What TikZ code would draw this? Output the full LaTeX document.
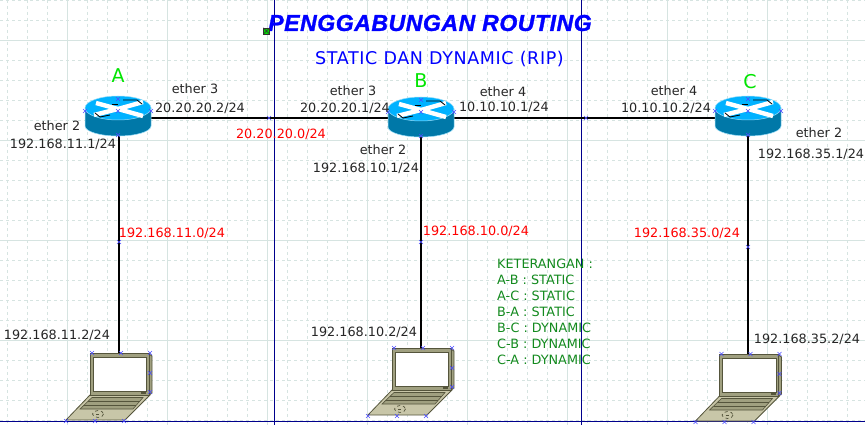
\documentclass[tikz,border=0pt]{standalone}
\usepackage{fontspec}
\usepackage{xcolor}
\usepackage{tikz}
\setmainfont{DejaVu Sans}
\newfontfamily\titlefont[BoldItalicFeatures={FakeBold=1.2,LetterSpace=2.5}]{Liberation Sans}
\newfontfamily\subtitlefont[LetterSpace=3.5]{DejaVu Sans}
\definecolor{gridline}{HTML}{D6E4E1}
\definecolor{routertop}{HTML}{00B2FF}
\definecolor{routerside}{HTML}{0078A8}
\definecolor{laptopbody}{HTML}{C8C6A8}
\definecolor{laptopedge}{HTML}{55553C}
\definecolor{laptopframe}{HTML}{A0A080}
\definecolor{notegreen}{HTML}{138A1E}
\tikzset{
  routerbox/.style={inner sep=0pt, minimum width=66pt, minimum height=38pt},
  laptopbox/.style={inner sep=0pt, minimum width=62pt, minimum height=1pt, anchor=north},
  link/.style={line width=2pt, black},
  arm/.style={white, line width=4.4pt},
  iplabel/.style={font=\fontsize{12.8}{15}\selectfont, text=black!85, inner sep=0pt},
  netlabel/.style={iplabel, text=red},
  namelabel/.style={font=\fontsize{19}{22}\selectfont, text=green!90!black, inner sep=0pt},
  notelabel/.style={font=\fontsize{12.8}{15}\selectfont, text=notegreen, inner sep=0pt, anchor=west},
  handle/.pic={\draw[blue!70, line width=0.4pt] (-2,-2) -- (2,2) (-2,2) -- (2,-2);},
  router/.pic={
    \fill[routerside, draw=cyan!40, line width=0.5pt] (-33,-9) -- (-33,9) arc[start angle=180, end angle=0, x radius=33, y radius=10] -- (33,-9) -- cycle;
    \fill[routertop, draw=cyan!40, line width=0.5pt] (0,-9) ellipse[x radius=33, y radius=12];
    \draw[arm] (-22,-14) -- (0,-8) -- (25,-15);  % White arrows
    \draw[arm] (-24,-2) -- (0,-8) -- (25,-1);
    \draw[black, line width=0.8pt] (5,-17) -- (19,-17) -- (24,-13);
    \draw[black, line width=0.8pt] (-6,-13) -- (0,-13);
    \draw[black, line width=0.8pt] (-23,-4) -- (-18,0) -- (-8,-2);
    \foreach \hx/\hy in {0/-18, -33/-6, 33/-6, 0/-6, 0/18} \pic at (\hx,\hy) {handle};
  },
  laptop/.pic={
    \fill[laptopbody, draw=laptopedge, line width=0.8pt] (0,42) -- (60,42) -- (35,67) -- (-24,67) -- cycle;
    \fill[laptopframe, draw=laptopedge, line width=0.6pt] (2,44.5) -- (53,44.5) -- (43,56) -- (-10,56) -- cycle;
    \foreach \ky/\kl/\kr in {48.5/-2/49.5, 52.5/-6/46} \draw[laptopedge, line width=1pt] (\kl,\ky) -- (\kr,\ky);
    \draw[laptopedge, dashed, line width=0.7pt] (8,61) ellipse[x radius=5.5, y radius=3.5];
    \draw[laptopedge, line width=0.6pt] (6,61) -- (9,61);
    \fill[laptopframe, draw=laptopedge, line width=0.9pt] (59,1) -- (62,3) -- (62,40) -- (59,42) -- cycle;
    \fill[laptopframe, draw=laptopedge, line width=0.9pt] (0,0) rectangle (59,42);
    \fill[white, draw=laptopedge, line width=0.9pt] (3,4) rectangle (56.5,38);
    \fill[laptopedge] (51,39) rectangle (56,40.5);
    \foreach \hx/\hy in {2/0, 31/0, 60/0, 60/20, 60/39, -24/68, 5/68, 34/68} \pic at (\hx,\hy) {handle};
  }
}
\begin{document}
\begin{tikzpicture}[x=1pt, y=-1pt]
  \useasboundingbox (0,0) rectangle (865,425);
  \fill[white] (0,0) rectangle (865,425);
  \foreach \gx in {7,27,...,867} \draw[gridline, dashed, line width=0.5pt] (\gx,0) -- (\gx,425);  % Minor grid
  \foreach \gy in {0,20,...,420} \draw[gridline, dashed, line width=0.5pt] (0,\gy) -- (865,\gy);
  \foreach \gx in {67,167,...,867} \draw[gridline, line width=0.8pt] (\gx,0) -- (\gx,425);  % Major grid
  \foreach \gy in {40,140,...,340} \draw[gridline, line width=0.8pt] (0,\gy) -- (865,\gy);
  \draw[blue!55!black, line width=0.8pt] (274,0) -- (274,425);  % Page edges
  \draw[blue!55!black, line width=0.8pt] (581,0) -- (581,425);
  \draw[blue!55!black, line width=0.8pt] (0,421.5) -- (865,421.5);

  \node[routerbox] (Router-A) at (118,117) {};  % Routers
  \node[routerbox] (Router-B) at (421,118) {};
  \node[routerbox] (Router-C) at (748,117) {};
  \node[laptopbox] (Laptop-A) at (119,353) {};  % Laptops
  \node[laptopbox] (Laptop-B) at (421,348) {};
  \node[laptopbox] (Laptop-C) at (748,354) {};

  \draw[link] (Router-A.east |- 0,118) -- (Router-B.west |- 0,118);  % Connect routers
  \draw[link] (Router-B.east |- 0,118) -- (Router-C.west |- 0,118);
  \draw[link] (Laptop-A.north) -- (Laptop-A |- Router-A);  % Connect laptops
  \draw[link] (Laptop-B.north) -- (Laptop-B |- Router-B);
  \draw[link] (Laptop-C.north) -- (Laptop-C |- Router-C);

  \pic at (Router-A) {router};
  \pic at (Router-B) {router};
  \pic at (Router-C) {router};
  \pic at (90,353) {laptop};
  \pic at (392,348) {laptop};
  \pic at (719.5,354) {laptop};
  \pic at (269,118) {handle};
  \pic at (586,118) {handle};
  \pic at (119,242) {handle};
  \pic at (421,242) {handle};
  \pic at (748,247) {handle};

  \node[font=\fontsize{23}{26}\titlefont\bfseries\itshape, text=blue, inner sep=0pt] (Title) at (430,23) {PENGGABUNGAN ROUTING};
  \node[font=\fontsize{17.5}{21}\subtitlefont, text=blue, inner sep=0pt] (Subtitle) at (439.5,59) {STATIC DAN DYNAMIC (RIP)};
  \node[draw=black!80, fill=green!85!black, minimum size=6pt, inner sep=0pt] (Anchor) at (266.5,31) {};
  \draw[black!80, line width=0.4pt] (Anchor.north west) -- (Anchor.south east) (Anchor.north east) -- (Anchor.south west);

  \node[namelabel] (Name-A) at (118,76) {A};
  \node[namelabel] (Name-B) at (421,81) {B};
  \node[namelabel] (Name-C) at (750,82) {C};

  \node[iplabel] (Eth-A3) at (195,89) {ether 3};
  \node[iplabel] (Ip-A3) at (200,108) {20.20.20.2/24};
  \node[iplabel] (Eth-A2) at (57,126) {ether 2};
  \node[iplabel] (Ip-A2) at (63,144) {192.168.11.1/24};
  \node[iplabel] (Eth-B3) at (353,91) {ether 3};
  \node[iplabel] (Ip-B3) at (345,108) {20.20.20.1/24};
  \node[iplabel] (Eth-B4) at (503,92) {ether 4};
  \node[iplabel] (Ip-B4) at (504,107) {10.10.10.1/24};
  \node[iplabel] (Eth-B2) at (383,150) {ether 2};
  \node[iplabel] (Ip-B2) at (366,168) {192.168.10.1/24};
  \node[iplabel] (Eth-C4) at (674,91) {ether 4};
  \node[iplabel] (Ip-C4) at (666,108) {10.10.10.2/24};
  \node[iplabel] (Eth-C2) at (819,133) {ether 2};
  \node[iplabel] (Ip-C2) at (811,154) {192.168.35.1/24};

  \node[netlabel] (Net-AB) at (281,134) {20.20.20.0/24};
  \node[netlabel] (Net-A) at (172,233) {192.168.11.0/24};
  \node[netlabel] (Net-B) at (476,231) {192.168.10.0/24};
  \node[netlabel] (Net-C) at (687,233) {192.168.35.0/24};

  \node[iplabel] (Ip-LA) at (57,335) {192.168.11.2/24};
  \node[iplabel] (Ip-LB) at (364,332) {192.168.10.2/24};
  \node[iplabel] (Ip-LC) at (807,339) {192.168.35.2/24};

  \node[notelabel] (Note-0) at (497,264) {KETERANGAN :};
  \node[notelabel] (Note-1) at (497,280) {A-B : STATIC};
  \node[notelabel] (Note-2) at (497,296) {A-C : STATIC};
  \node[notelabel] (Note-3) at (497,312) {B-A : STATIC};
  \node[notelabel] (Note-4) at (497,328) {B-C : DYNAMIC};
  \node[notelabel] (Note-5) at (497,344) {C-B : DYNAMIC};
  \node[notelabel] (Note-6) at (497,360) {C-A : DYNAMIC};
\end{tikzpicture}
\end{document}
